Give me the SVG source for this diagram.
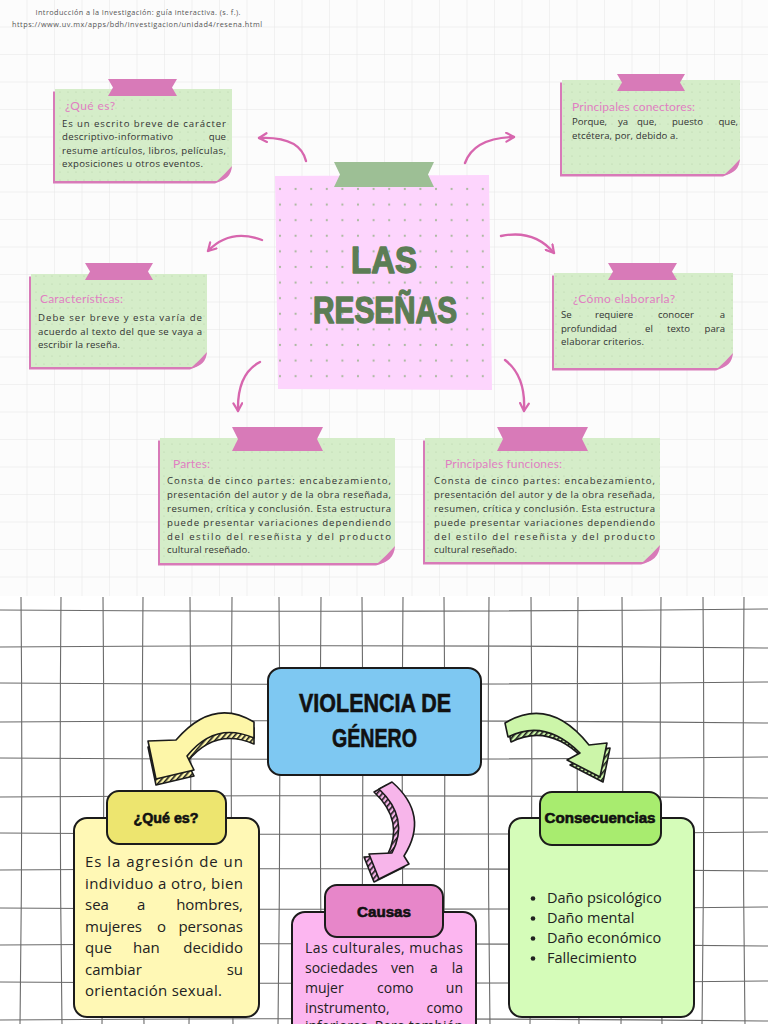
<svg xmlns="http://www.w3.org/2000/svg" width="768" height="1024" viewBox="0 0 768 1024">
<style>
.bd{font-family:"Open Sans","Liberation Sans",sans-serif;font-size:9.6px;fill:#333}
.tt{font-family:"Lato","Liberation Sans",sans-serif;font-size:12px;fill:#e07fc2}
.rib{fill:#d87ab8}
.card{fill:#d5edc9}
.cardd{fill:url(#dots)}
.sh{fill:#d87ab8}
.pa{fill:none;stroke:#d766ae;stroke-width:2.4;stroke-linecap:round;marker-end:url(#ah)}
.hb{font-family:"Liberation Sans",Arial,sans-serif;font-weight:bold;fill:#111;stroke:#111;stroke-width:0.6}
.bt{font-family:"Open Sans","Liberation Sans",sans-serif;fill:#222}
.ln{stroke:#1b1b1b;stroke-width:2}
.gl{fill:none;stroke:#6a6a6a;stroke-width:1.1}
.big{font-family:"Liberation Sans",Arial,sans-serif;font-weight:bold;font-size:36px;fill:#5c7d55;stroke:#5c7d55;stroke-width:1.4;stroke-linejoin:round}
.ref{font-family:"Open Sans","Liberation Sans",sans-serif;font-size:7.3px;fill:#555}
.a3{stroke:#1b1b1b;stroke-width:1.6;stroke-linejoin:round}
</style>
<defs>
<pattern id="tgrid" width="27.5" height="27.5" patternUnits="userSpaceOnUse"><path d="M27.5 0V27.5M0 27.5H27.5" stroke="#e6e6e6" stroke-width="1" fill="none"/></pattern>
<pattern id="dots" width="8" height="8" patternUnits="userSpaceOnUse"><circle cx="4" cy="4" r="0.6" fill="#b3cfa6"/></pattern>
<pattern id="bdots" x="272.2" y="181.2" width="15.6" height="15.6" patternUnits="userSpaceOnUse"><circle cx="7.8" cy="7.8" r="1.1" fill="#a9b99d"/></pattern>
<pattern id="hatch" width="4" height="4" patternUnits="userSpaceOnUse" patternTransform="rotate(40)"><rect width="1.6" height="4" fill="#1b1b1b"/></pattern>
<marker id="ah" viewBox="0 0 10 10" refX="8" refY="5" markerWidth="11" markerHeight="11" markerUnits="userSpaceOnUse" orient="auto"><path d="M1,1 L8,5 L1,9" fill="none" stroke="#d766ae" stroke-width="2" stroke-linecap="round" stroke-linejoin="round"/></marker>
</defs>

<rect width="768" height="596" fill="#fcfcfc"/>
<rect width="768" height="596" fill="url(#tgrid)"/>
<rect y="596" width="768" height="428" fill="#ffffff"/>

<g id="bottom-grid" class="gl">
<path d="M21,597 Q23,810 20,1024"/><path d="M61,597 Q59,810 62,1024"/><path d="M103,597 Q105,810 102,1024"/><path d="M143,597 Q141,810 144,1024"/><path d="M190,597 Q192,810 189,1024"/><path d="M232,597 Q230,810 233,1024"/><path d="M279,597 Q281,810 278,1024"/><path d="M321,597 Q319,810 322,1024"/><path d="M362,597 Q364,810 361,1024"/><path d="M403,597 Q401,810 404,1024"/><path d="M444,597 Q446,810 443,1024"/><path d="M489,597 Q487,810 490,1024"/><path d="M531,597 Q533,810 530,1024"/><path d="M578,597 Q576,810 579,1024"/><path d="M622,597 Q624,810 621,1024"/><path d="M661,597 Q659,810 662,1024"/><path d="M703,597 Q705,810 702,1024"/><path d="M744,597 Q742,810 745,1024"/>
<path d="M0,610 Q384,613 768,609"/><path d="M0,647 Q384,644 768,648"/><path d="M0,683 Q384,686 768,682"/><path d="M0,722 Q384,719 768,723"/><path d="M0,758 Q384,761 768,757"/><path d="M0,797 Q384,794 768,798"/><path d="M0,833 Q384,836 768,832"/><path d="M0,870 Q384,867 768,871"/><path d="M0,908 Q384,911 768,907"/><path d="M0,945 Q384,942 768,946"/><path d="M0,982 Q384,985 768,981"/><path d="M0,1020 Q384,1017 768,1021"/>
</g>

<g id="reference">
<text class="ref" x="138" y="15" text-anchor="middle" textLength="205">Introducción a la Investigación: guía interactiva. (s. f.).</text>
<text class="ref" x="137" y="27" text-anchor="middle" textLength="250">https://www.uv.mx/apps/bdh/investigacion/unidad4/resena.html</text>
</g>

<g id="connectors">
<path class="pa" d="M306,161 Q300,136 259,138"/>
<path class="pa" d="M465,163 Q474,138 514,137"/>
<path class="pa" d="M262,240 Q230,228 208,251"/>
<path class="pa" d="M501,236 Q534,229 554,253"/>
<path class="pa" d="M260,362 Q237,374 238,411"/>
<path class="pa" d="M505,360 Q526,376 524,411"/>
<g id="arrow-yellow">
<path class="a3" fill="#fdf6a8" transform="translate(0,6)" d="M254,722 Q213,697 176,740 L148,741 L156,779 L194,770 L187,756 Q215,721 254,738 Z"/>
<path fill="url(#hatch)" transform="translate(0,6)" d="M254,722 Q213,697 176,740 L148,741 L156,779 L194,770 L187,756 Q215,721 254,738 Z"/>
<path class="a3" fill="#fdf6a8" d="M254,722 Q213,697 176,740 L148,741 L156,779 L194,770 L187,756 Q215,721 254,738 Z"/>
</g>
<g id="arrow-pink">
<path class="a3" fill="#f7b5ea" transform="translate(-5,3)" d="M392,782 Q430,815 404,856 L409,864 L379,879 L369,854 L392,853 Q410,818 379,789 Z"/>
<path fill="url(#hatch)" transform="translate(-5,3)" d="M392,782 Q430,815 404,856 L409,864 L379,879 L369,854 L392,853 Q410,818 379,789 Z"/>
<path class="a3" fill="#f7b5ea" d="M392,782 Q430,815 404,856 L409,864 L379,879 L369,854 L392,853 Q410,818 379,789 Z"/>
</g>
<g id="arrow-green">
<path class="a3" fill="#ccf5a9" transform="translate(3,5)" d="M505,723 Q550,696 589,745 L607,743 L600,777 L567,760 L580,753 Q545,718 508,737 Z"/>
<path fill="url(#hatch)" transform="translate(3,5)" d="M505,723 Q550,696 589,745 L607,743 L600,777 L567,760 L580,753 Q545,718 508,737 Z"/>
<path class="a3" fill="#ccf5a9" d="M505,723 Q550,696 589,745 L607,743 L600,777 L567,760 L580,753 Q545,718 508,737 Z"/>
</g>
</g>

<g id="n-center">
<polygon points="275,176 489,175 492,390 278,389" fill="#fdd5fd"/>
<polygon points="275,176 489,175 492,390 278,389" fill="url(#bdots)"/>
<path fill="#9dbf95" d="M334,162 H434 L428,174.5 L434,187 H334 L340,174.5 Z"/>
<text class="big" x="384" y="273" text-anchor="middle" textLength="66" lengthAdjust="spacingAndGlyphs">LAS</text>
<text class="big" x="385" y="323" text-anchor="middle" textLength="144" lengthAdjust="spacingAndGlyphs">RESEÑAS</text>
</g>

<g id="n-que-es">
<path class="sh" transform="translate(-2,2.5)" d="M55,89 L232,89 L232,166 Q229,178 217,181 L55,181 Z"/>
<path class="card" d="M55,89 L232,89 L232,166 Q229,178 217,181 L55,181 Z"/>
<path class="cardd" d="M55,89 L232,89 L232,166 Q229,178 217,181 L55,181 Z"/>
<path class="sh" d="M232,166 Q231,180 216,182 Q225,174 232,166 Z"/>
<path class="rib" d="M108,79 H177 L172,87.5 L177,96 H108 L113,87.5 Z"/>
<text class="tt" x="65" y="110" textLength="50">¿Qué es?</text>
<text class="bd" x="62" y="126.5" textLength="164" lengthAdjust="spacing">Es un escrito breve de carácter</text>
<text class="bd" x="62" y="140" textLength="111" lengthAdjust="spacing">descriptivo-informativo</text>
<text class="bd" x="226" y="140" text-anchor="end">que</text>
<text class="bd" x="62" y="153.5" textLength="164" lengthAdjust="spacing">resume artículos, libros, películas,</text>
<text class="bd" x="62" y="167" textLength="141" lengthAdjust="spacing">exposiciones u otros eventos.</text>
</g>

<g id="n-conectores">
<path class="sh" transform="translate(-2,2.5)" d="M562,80 L740,80 L740,159 Q737,171 725,174 L562,174 Z"/>
<path class="card" d="M562,80 L740,80 L740,159 Q737,171 725,174 L562,174 Z"/>
<path class="cardd" d="M562,80 L740,80 L740,159 Q737,171 725,174 L562,174 Z"/>
<path class="sh" d="M740,159 Q739,173 724,175 Q733,167 740,159 Z"/>
<path class="rib" d="M617,74 H685 L680,82.5 L685,91 H617 L622,82.5 Z"/>
<text class="tt" x="572" y="111" textLength="123">Principales conectores:</text>
<text class="bd" y="125"><tspan x="572">Porque,</tspan><tspan x="618">ya</tspan><tspan x="637">que,</tspan><tspan x="672">puesto</tspan></text>
<text class="bd" x="738" y="125" text-anchor="end">que,</text>
<text class="bd" x="572" y="139" textLength="106" lengthAdjust="spacing">etcétera, por, debido a.</text>
</g>

<g id="n-caracteristicas">
<path class="sh" transform="translate(-2,2.5)" d="M31,274 L207,274 L207,352 Q204,364 192,367 L31,367 Z"/>
<path class="card" d="M31,274 L207,274 L207,352 Q204,364 192,367 L31,367 Z"/>
<path class="cardd" d="M31,274 L207,274 L207,352 Q204,364 192,367 L31,367 Z"/>
<path class="sh" d="M207,352 Q206,366 191,368 Q200,360 207,352 Z"/>
<path class="rib" d="M85,263 H153 L148,271.5 L153,280 H85 L90,271.5 Z"/>
<text class="tt" x="40" y="303" textLength="83">Características:</text>
<text class="bd" x="38" y="321" textLength="164" lengthAdjust="spacing">Debe ser breve y esta varía de</text>
<text class="bd" x="38" y="334.5" textLength="164" lengthAdjust="spacing">acuerdo al texto del que se vaya a</text>
<text class="bd" x="38" y="348" textLength="82" lengthAdjust="spacing">escribir la reseña.</text>
</g>

<g id="n-como">
<path class="sh" transform="translate(-2,2.5)" d="M554,273 L733,273 L733,353 Q730,365 718,368 L554,368 Z"/>
<path class="card" d="M554,273 L733,273 L733,353 Q730,365 718,368 L554,368 Z"/>
<path class="cardd" d="M554,273 L733,273 L733,353 Q730,365 718,368 L554,368 Z"/>
<path class="sh" d="M733,353 Q732,367 717,369 Q726,361 733,353 Z"/>
<path class="rib" d="M608,263 H677 L672,271.5 L677,280 H608 L613,271.5 Z"/>
<text class="tt" x="573" y="303" textLength="102">¿Cómo elaborarla?</text>
<text class="bd" y="318"><tspan x="561">Se</tspan><tspan x="595">requiere</tspan><tspan x="658">conocer</tspan></text>
<text class="bd" x="725" y="318" text-anchor="end">a</text>
<text class="bd" y="332"><tspan x="561">profundidad</tspan><tspan x="645">el</tspan><tspan x="667">texto</tspan></text>
<text class="bd" x="725" y="332" text-anchor="end">para</text>
<text class="bd" x="561" y="345" textLength="83" lengthAdjust="spacing">elaborar criterios.</text>
</g>

<g id="n-partes">
<path class="sh" transform="translate(-2,2.5)" d="M160,438 L395,438 L395,546 Q392,560 378,563 L160,563 Z"/>
<path class="card" d="M160,438 L395,438 L395,546 Q392,560 378,563 L160,563 Z"/>
<path class="cardd" d="M160,438 L395,438 L395,546 Q392,560 378,563 L160,563 Z"/>
<path class="sh" d="M395,546 Q394,562 377,564 Q387,555 395,546 Z"/>
<path class="rib" d="M232,427 H323 L317,439 L323,451 H232 L238,439 Z"/>
<text class="tt" x="173" y="468" textLength="37">Partes:</text>
<text class="bd" x="167" y="484" textLength="224" lengthAdjust="spacing">Consta de cinco partes: encabezamiento,</text>
<text class="bd" x="167" y="498" textLength="224" lengthAdjust="spacing">presentación del autor y de la obra reseñada,</text>
<text class="bd" x="167" y="512" textLength="224" lengthAdjust="spacing">resumen, crítica y conclusión. Esta estructura</text>
<text class="bd" x="167" y="526" textLength="224" lengthAdjust="spacing">puede presentar variaciones dependiendo</text>
<text class="bd" x="167" y="539.5" textLength="224" lengthAdjust="spacing">del estilo del reseñista y del producto</text>
<text class="bd" x="167" y="553" textLength="83" lengthAdjust="spacing">cultural reseñado.</text>
</g>

<g id="n-funciones">
<path class="sh" transform="translate(-2,2.5)" d="M425,438 L660,438 L660,545 Q657,559 643,562 L425,562 Z"/>
<path class="card" d="M425,438 L660,438 L660,545 Q657,559 643,562 L425,562 Z"/>
<path class="cardd" d="M425,438 L660,438 L660,545 Q657,559 643,562 L425,562 Z"/>
<path class="sh" d="M660,545 Q659,561 642,563 Q652,554 660,545 Z"/>
<path class="rib" d="M497,427 H588 L582,439 L588,451 H497 L503,439 Z"/>
<text class="tt" x="445" y="468" textLength="117">Principales funciones:</text>
<text class="bd" x="434" y="484" textLength="221" lengthAdjust="spacing">Consta de cinco partes: encabezamiento,</text>
<text class="bd" x="434" y="498" textLength="221" lengthAdjust="spacing">presentación del autor y de la obra reseñada,</text>
<text class="bd" x="434" y="512" textLength="221" lengthAdjust="spacing">resumen, crítica y conclusión. Esta estructura</text>
<text class="bd" x="434" y="526" textLength="221" lengthAdjust="spacing">puede presentar variaciones dependiendo</text>
<text class="bd" x="434" y="539.5" textLength="221" lengthAdjust="spacing">del estilo del reseñista y del producto</text>
<text class="bd" x="434" y="553" textLength="83" lengthAdjust="spacing">cultural reseñado.</text>
</g>

<g id="n-violencia">
<rect class="ln" x="268" y="668" width="213" height="107" rx="13" fill="#7ec8f2"/>
<text class="hb" x="375" y="712" font-size="25" text-anchor="middle" textLength="152" lengthAdjust="spacingAndGlyphs">VIOLENCIA DE</text>
<text class="hb" x="374.5" y="747" font-size="25" text-anchor="middle" textLength="85" lengthAdjust="spacingAndGlyphs">GÉNERO</text>
</g>

<g id="n-definicion">
<rect class="ln" x="74" y="818" width="185" height="199" rx="13" fill="#fff8b5"/>
<rect class="ln" x="107" y="791" width="119" height="53" rx="12" fill="#ede56f"/>
<text class="hb" x="166" y="823" font-size="14" text-anchor="middle" textLength="65" lengthAdjust="spacingAndGlyphs">¿Qué es?</text>
<text class="bt" font-size="15" x="85" y="867" textLength="158" lengthAdjust="spacing">Es la agresión de un</text>
<text class="bt" font-size="15" x="85" y="888.5" textLength="158" lengthAdjust="spacing">individuo a otro, bien</text>
<text class="bt" font-size="15" y="910"><tspan x="85">sea</tspan><tspan x="137">a</tspan></text>
<text class="bt" font-size="15" x="243" y="910" text-anchor="end">hombres,</text>
<text class="bt" font-size="15" y="931.5"><tspan x="85">mujeres</tspan><tspan x="157">o</tspan></text>
<text class="bt" font-size="15" x="243" y="931.5" text-anchor="end">personas</text>
<text class="bt" font-size="15" y="953"><tspan x="85">que</tspan><tspan x="133">han</tspan></text>
<text class="bt" font-size="15" x="243" y="953" text-anchor="end">decidido</text>
<text class="bt" font-size="15" x="85" y="974.5">cambiar</text>
<text class="bt" font-size="15" x="243" y="974.5" text-anchor="end">su</text>
<text class="bt" font-size="15" x="85" y="996" textLength="137" lengthAdjust="spacing">orientación sexual.</text>
</g>

<g id="n-causas">
<rect class="ln" x="292" y="912" width="184" height="140" rx="13" fill="#fcb6f0"/>
<rect class="ln" x="325" y="885" width="118" height="52" rx="12" fill="#e786c9"/>
<text class="hb" x="384" y="917" font-size="14" text-anchor="middle" textLength="54" lengthAdjust="spacingAndGlyphs">Causas</text>
<text class="bt" font-size="14" x="305" y="953" textLength="158" lengthAdjust="spacing">Las culturales, muchas</text>
<text class="bt" font-size="14" y="973"><tspan x="305">sociedades</tspan><tspan x="391">ven</tspan><tspan x="430">a</tspan></text>
<text class="bt" font-size="14" x="463" y="973" text-anchor="end">la</text>
<text class="bt" font-size="14" y="993"><tspan x="305">mujer</tspan><tspan x="377">como</tspan></text>
<text class="bt" font-size="14" x="463" y="993" text-anchor="end">un</text>
<text class="bt" font-size="14" x="305" y="1012.5">instrumento,</text>
<text class="bt" font-size="14" x="463" y="1012.5" text-anchor="end">como</text>
<text class="bt" font-size="14" x="305" y="1031" textLength="158" lengthAdjust="spacing">inferiores. Pero también</text>
</g>

<g id="n-consecuencias">
<rect class="ln" x="509" y="818" width="185" height="199" rx="13" fill="#d5fcb9"/>
<rect class="ln" x="540" y="792" width="121" height="53" rx="12" fill="#a8ec6f"/>
<text class="hb" x="600" y="823" font-size="14" text-anchor="middle" textLength="111" lengthAdjust="spacingAndGlyphs">Consecuencias</text>
<circle cx="533" cy="898.5" r="2.3" fill="#222"/>
<circle cx="533" cy="918.5" r="2.3" fill="#222"/>
<circle cx="533" cy="938.5" r="2.3" fill="#222"/>
<circle cx="533" cy="958.5" r="2.3" fill="#222"/>
<text class="bt" font-size="14.5" x="547" y="903">Daño psicológico</text>
<text class="bt" font-size="14.5" x="547" y="923">Daño mental</text>
<text class="bt" font-size="14.5" x="547" y="943">Daño económico</text>
<text class="bt" font-size="14.5" x="547" y="963">Fallecimiento</text>
</g>
</svg>
